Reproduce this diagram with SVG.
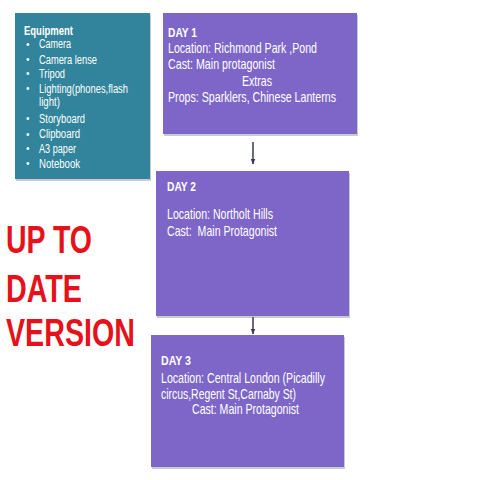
<svg xmlns="http://www.w3.org/2000/svg" width="480" height="480" viewBox="0 0 480 480">
<defs>
<style>
.t{font-family:"Liberation Sans",Arial,sans-serif;fill:#ffffff}
.eq{font-size:12px}
.bx{font-size:14.5px}
.b{font-weight:bold}
.bul{font-size:10px}
.red{font-family:"Liberation Sans",Arial,sans-serif;font-weight:bold;font-size:39px;fill:#e5121b}
.shadow{fill:#8a8a9a;opacity:0.45}
.purple{fill:#7e66c8}
.teal{fill:#31849b}
.conn{stroke:#3a3a55;stroke-width:1.5;fill:none}
</style>
<marker id="ah" viewBox="0 0 10 10" refX="9" refY="5" markerWidth="6" markerHeight="6" orient="auto" markerUnits="userSpaceOnUse">
<path d="M0,1 L10,5 L0,9 z" fill="#3a3a55"/>
</marker>
</defs>
<rect width="480" height="480" fill="#ffffff"/>

<g id="equipment">
<rect class="shadow" x="16" y="15" width="135" height="166"/>
<rect class="teal" x="15" y="13" width="135" height="166"/>
<text class="t eq b" x="24" y="35" textLength="49" lengthAdjust="spacingAndGlyphs">Equipment</text>
<g class="t eq">
<text class="bul" x="26" y="47.5">•</text>
<text x="39" y="48" textLength="32" lengthAdjust="spacingAndGlyphs">Camera</text>
<text class="bul" x="26" y="63">•</text>
<text x="39" y="63.5" textLength="58" lengthAdjust="spacingAndGlyphs">Camera lense</text>
<text class="bul" x="26" y="77">•</text>
<text x="39" y="77.5" textLength="26" lengthAdjust="spacingAndGlyphs">Tripod</text>
<text class="bul" x="26" y="92">•</text>
<text x="39" y="92.5" textLength="89" lengthAdjust="spacingAndGlyphs">Lighting(phones,flash</text>
<text x="39" y="106" textLength="21" lengthAdjust="spacingAndGlyphs">light)</text>
<text class="bul" x="26" y="122">•</text>
<text x="39" y="122.5" textLength="46" lengthAdjust="spacingAndGlyphs">Storyboard</text>
<text class="bul" x="26" y="137.5">•</text>
<text x="39" y="138" textLength="41" lengthAdjust="spacingAndGlyphs">Clipboard</text>
<text class="bul" x="26" y="152">•</text>
<text x="39" y="152.5" textLength="37" lengthAdjust="spacingAndGlyphs">A3 paper</text>
<text class="bul" x="26" y="167">•</text>
<text x="39" y="167.5" textLength="41" lengthAdjust="spacingAndGlyphs">Notebook</text>
</g>
</g>

<g id="day1">
<rect class="shadow" x="164" y="15" width="194" height="121"/>
<rect class="purple" x="163" y="13" width="194" height="121"/>
<g class="t bx">
<text class="b" x="168" y="36.7" font-size="13" textLength="29" lengthAdjust="spacingAndGlyphs">DAY 1</text>
<text x="168" y="52.5" textLength="149" lengthAdjust="spacingAndGlyphs">Location: Richmond Park ,Pond</text>
<text x="168" y="69.3" textLength="107" lengthAdjust="spacingAndGlyphs">Cast: Main protagonist</text>
<text x="242" y="86" textLength="30" lengthAdjust="spacingAndGlyphs">Extras</text>
<text x="168" y="102" textLength="168" lengthAdjust="spacingAndGlyphs">Props: Sparklers, Chinese Lanterns</text>
</g>
</g>

<g id="day2">
<rect class="shadow" x="157" y="173" width="193" height="145"/>
<rect class="purple" x="156" y="171" width="193" height="145"/>
<g class="t bx">
<text class="b" x="167" y="190.7" font-size="13" textLength="29" lengthAdjust="spacingAndGlyphs">DAY 2</text>
<text x="167" y="219.3" textLength="106" lengthAdjust="spacingAndGlyphs">Location: Northolt Hills</text>
<text x="167" y="235.5" textLength="110" lengthAdjust="spacingAndGlyphs" xml:space="preserve">Cast:  Main Protagonist</text>
</g>
</g>

<g id="day3">
<rect class="shadow" x="152" y="337" width="193" height="132"/>
<rect class="purple" x="151" y="335" width="193" height="132"/>
<g class="t bx">
<text class="b" x="161" y="365" font-size="13" textLength="30" lengthAdjust="spacingAndGlyphs">DAY 3</text>
<text x="161" y="382.7" textLength="164" lengthAdjust="spacingAndGlyphs">Location: Central London (Picadilly</text>
<text x="161" y="398.5" textLength="135" lengthAdjust="spacingAndGlyphs">circus,Regent St,Carnaby St)</text>
<text x="192" y="414.3" textLength="107" lengthAdjust="spacingAndGlyphs">Cast: Main Protagonist</text>
</g>
</g>

<g id="label">
<text class="red" x="6" y="253.3" textLength="86" lengthAdjust="spacingAndGlyphs">UP TO</text>
<text class="red" x="6" y="301.7" textLength="76" lengthAdjust="spacingAndGlyphs">DATE</text>
<text class="red" x="6" y="346" textLength="129" lengthAdjust="spacingAndGlyphs">VERSION</text>
</g>

<g id="connectors">
<line class="conn" x1="253" y1="142" x2="253" y2="164" marker-end="url(#ah)"/>
<line class="conn" x1="253" y1="317" x2="253" y2="334" marker-end="url(#ah)"/>
</g>
</svg>
